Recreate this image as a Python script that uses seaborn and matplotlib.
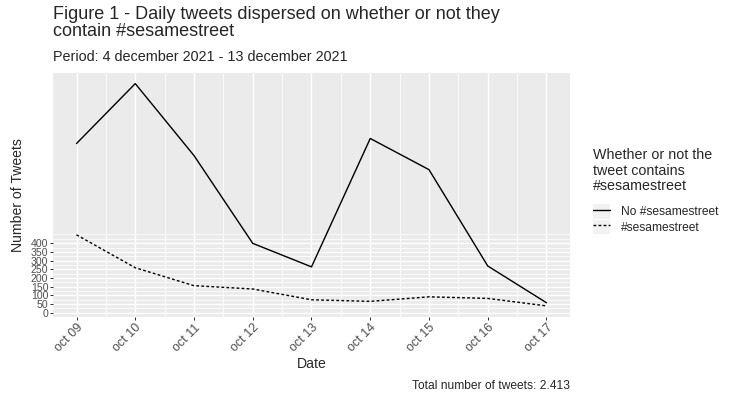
import pandas as pd
import matplotlib.pyplot as plt
import matplotlib.dates as mdates
import seaborn as sns
from matplotlib.lines import Line2D
from matplotlib.patches import Patch
from matplotlib.ticker import FixedLocator

OUTPUT_IMAGE = 'out.png'

# Data
dates = pd.date_range('2021-10-09', '2021-10-17', freq='D')
date_labels = ['oct 09', 'oct 10', 'oct 11', 'oct 12', 'oct 13',
               'oct 14', 'oct 15', 'oct 16', 'oct 17']
no_tag = [972, 1316, 903, 399, 264, 1001, 822, 269, 58]
with_tag = [448, 259, 156, 137, 75, 66, 92, 83, 40]
groups = ['No #sesamestreet', '#sesamestreet']
y_ticks = [0, 50, 100, 150, 200, 250, 300, 350, 400]
y_minor = [25, 75, 125, 175, 225, 275, 325, 375, 425, 450]

FONT = ['Liberation Sans', 'DejaVu Sans']
GREY30 = '#4D4D4D'


def build_frame():
    df = pd.DataFrame({
        'date': list(dates) * 2,
        'tweets': no_tag + with_tag,
        'group': [groups[0]] * len(dates) + [groups[1]] * len(dates),
    })
    return df


def main():
    df = build_frame()

    sns.set_theme(style='white')
    plt.rcParams['font.family'] = FONT

    fig = plt.figure(figsize=(731 / 72, 399 / 72), dpi=72)
    ax = fig.add_axes([53 / 731, 1 - 317 / 399, (570 - 53) / 731, (317 - 72.5) / 399])
    ax.set_facecolor('#EBEBEB')

    sns.lineplot(
        data=df, x='date', y='tweets', style='group', style_order=groups,
        dashes={groups[0]: '', groups[1]: (2, 1.6)},
        color='black', linewidth=1.4, ax=ax, legend=False,
    )
    ax.margins(x=0.05, y=0.05)

    # ticks and grid (ggplot look)
    ax.set_xticks(dates)
    ax.set_xticklabels(date_labels, rotation=45, ha='right', rotation_mode='anchor')
    half_days = dates[:-1] + pd.Timedelta(hours=12)
    ax.xaxis.set_minor_locator(FixedLocator([mdates.date2num(d) for d in half_days]))
    ax.set_yticks(y_ticks)
    ax.yaxis.set_minor_locator(FixedLocator(y_minor))
    ax.grid(which='major', color='white', linewidth=1.4)
    ax.grid(which='minor', color='white', linewidth=0.7)
    ax.set_axisbelow(True)
    ax.tick_params(which='major', length=2.75, width=1.0, color='#333333',
                   labelcolor=GREY30, pad=2, left=True, bottom=True)
    ax.tick_params(which='minor', length=0)
    ax.tick_params(axis='x', labelsize=12.5)
    ax.tick_params(axis='y', labelsize=10.5)
    for s in ax.spines.values():
        s.set_visible(False)

    ax.set_xlabel('Date', fontsize=14, labelpad=3)
    ax.set_ylabel('Number of Tweets', fontsize=14, labelpad=6)

    # titles
    fig.text(53 / 731, 1 - 6 / 399,
             'Figure 1 - Daily tweets dispersed on whether or not they\ncontain #sesamestreet',
             fontsize=18, ha='left', va='top', linespacing=0.97)
    fig.text(53 / 731, 1 - 61 / 399, 'Period: 4 december 2021 - 13 december 2021',
             fontsize=14.4, ha='left', va='baseline')
    fig.text(570 / 731, 1 - 389 / 399, 'Total number of tweets: 2.413',
             fontsize=12, ha='right', va='baseline')

    # legend with grey key backgrounds
    handles = [
        (Patch(facecolor='#F2F2F2', edgecolor='none'),
         Line2D([], [], color='black', linewidth=1.4)),
        (Patch(facecolor='#F2F2F2', edgecolor='none'),
         Line2D([], [], color='black', linewidth=1.4, dashes=(2, 1.6))),
    ]
    leg = fig.legend(
        handles, groups, loc='upper left', bbox_to_anchor=(587 / 731, 1 - 142 / 399),
        title='Whether or not the\ntweet contains\n#sesamestreet',
        title_fontsize=14.3, fontsize=12, frameon=False, alignment='left',
        handlelength=1.45, handleheight=1.45, labelspacing=0.08, handletextpad=0.85,
        borderpad=0.0,
    )
    leg.get_title().set_linespacing(1.15)
    leg._legend_box.sep = 11

    plt.savefig(OUTPUT_IMAGE, dpi=72)


if __name__ == '__main__':
    main()
